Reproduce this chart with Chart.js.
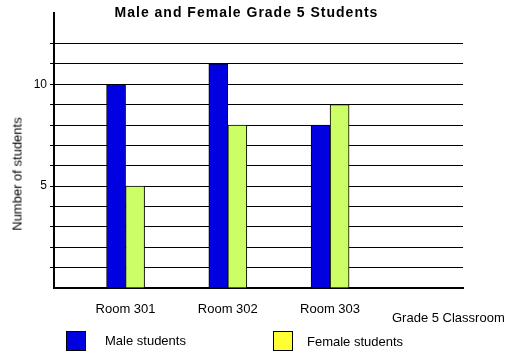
<!DOCTYPE html>
<html>
<head>
<meta charset="utf-8">
<script src="https://cdn.jsdelivr.net/npm/chart.js@4/dist/chart.umd.min.js"></script>
<style>
  html, body { margin: 0; padding: 0; background: #fff; }
  #wrap { position: relative; width: 520px; height: 356px; font-family: "Liberation Sans", Arial, sans-serif; color: #000; }
  canvas { position: absolute; left: 0; top: 0; }
  .txt { position: absolute; white-space: nowrap; font-size: 13px; line-height: 13px; color: #000; }
  #title { left: 0; width: 493px; text-align: center; top: 5px; font-weight: bold; font-size: 14px; line-height: 14px; letter-spacing: 1px; }
  #ylab { left: 17px; top: 174px; transform: translate(-50%, -50%) rotate(-90deg); }
  #xlab { left: 392px; top: 311px; }
  .box { position: absolute; width: 18px; height: 18px; border: 1px solid #000; top: 331px; }
</style>
</head>
<body>
<div id="wrap">
  <canvas id="c" width="520" height="356"></canvas>
  <div class="txt" id="title">Male and Female Grade 5 Students</div>
  <div class="txt" id="ylab">Number of students</div>
  <div class="txt" id="xlab">Grade 5 Classroom</div>
  <div class="box" style="left:66px;background:#0000e0"></div>
  <div class="txt" style="left:105px;top:334px">Male students</div>
  <div class="box" style="left:273px;background:#ffff33"></div>
  <div class="txt" style="left:307px;top:335px">Female students</div>
</div>
<script>
const categories = ['Room 301', 'Room 302', 'Room 303'];
const maleStudents = [10, 11, 8];
const femaleStudents = [5, 8, 9];
const yTickLabels = [5, 10];

const toPoints = arr => arr.map((v, i) => ({ x: i + 1, y: v }));

new Chart(document.getElementById('c'), {
  type: 'bar',
  data: {
    datasets: [
      { label: 'Male students', data: toPoints(maleStudents), backgroundColor: '#0000e0', borderColor: '#000', borderWidth: 1, barThickness: 19 },
      { label: 'Female students', data: toPoints(femaleStudents), backgroundColor: '#ccff66', borderColor: '#000', borderWidth: 1, barThickness: 19 }
    ]
  },
  options: {
    responsive: false,
    animation: false,
    layout: { padding: { top: 13, right: 57, bottom: 0, left: 0 } },
    plugins: { legend: { display: false }, tooltip: { enabled: false }, title: { display: false } },
    scales: {
      x: {
        type: 'linear',
        offset: false,
        min: 0.3,
        max: 4.3,
        afterFit: s => { s.height = 68; },
        afterBuildTicks: s => { s.ticks = categories.map((c, i) => ({ value: i + 1 })); },
        grid: { display: false, offset: false },
        border: { display: true, color: '#000', width: 2 },
        ticks: {
          autoSkip: false,
          maxRotation: 0,
          padding: 6,
          color: '#000',
          font: { family: '"Liberation Sans", Arial, sans-serif', size: 13 },
          callback: v => categories[v - 1] || ''
        }
      },
      y: {
        min: 0,
        max: 13.5,
        afterFit: s => { s.width = 54; },
        afterBuildTicks: s => {
          const t = [];
          for (let v = 0; v <= 12; v++) t.push({ value: v });
          s.ticks = t;
        },
        border: { display: true, color: '#000', width: 2 },
        grid: {
          color: ctx => (ctx.tick && ctx.tick.value >= 1 && ctx.tick.value <= 12) ? '#000' : 'rgba(0,0,0,0)',
          tickColor: ctx => (ctx.tick && ctx.tick.value >= 1 && ctx.tick.value <= 12) ? '#000' : 'rgba(0,0,0,0)',
          lineWidth: 1,
          tickLength: 4,
          drawTicks: true
        },
        ticks: {
          padding: 3,
          color: '#000',
          font: { family: '"Liberation Sans", Arial, sans-serif', size: 12 },
          callback: v => yTickLabels.includes(v) ? String(v) : ''
        }
      }
    }
  }
});
</script>
</body>
</html>
